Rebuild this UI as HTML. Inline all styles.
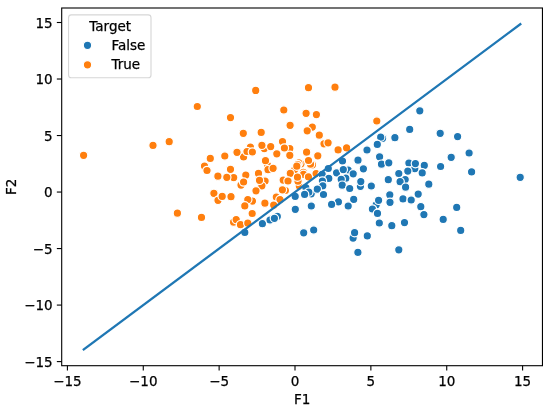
<!DOCTYPE html>
<html><head><meta charset="utf-8"><title>Scatter</title>
<style>html,body{margin:0;padding:0;background:#fff;}svg{display:block;}</style>
</head><body>
<svg width="550" height="411" viewBox="0 0 550 411">
<rect width="550" height="411" fill="#fff"/>
<rect x="61.7" y="8.0" width="480.75000000000006" height="357.7" fill="#fff" stroke="none"/>
<g stroke="#fff" stroke-width="1.2">
<circle cx="83.6" cy="155.3" r="4.2" fill="#ff7f0e"/>
<circle cx="153.0" cy="145.4" r="4.2" fill="#ff7f0e"/>
<circle cx="169.2" cy="141.7" r="4.2" fill="#ff7f0e"/>
<circle cx="255.7" cy="90.4" r="4.2" fill="#ff7f0e"/>
<circle cx="197.3" cy="106.5" r="4.2" fill="#ff7f0e"/>
<circle cx="230.5" cy="117.6" r="4.2" fill="#ff7f0e"/>
<circle cx="243.3" cy="133.3" r="4.2" fill="#ff7f0e"/>
<circle cx="261.2" cy="132.4" r="4.2" fill="#ff7f0e"/>
<circle cx="264.3" cy="148.6" r="4.2" fill="#ff7f0e"/>
<circle cx="261.9" cy="145.3" r="4.2" fill="#ff7f0e"/>
<circle cx="270.7" cy="146.6" r="4.2" fill="#ff7f0e"/>
<circle cx="250.4" cy="147.1" r="4.2" fill="#ff7f0e"/>
<circle cx="243.6" cy="156.9" r="4.2" fill="#ff7f0e"/>
<circle cx="247.0" cy="151.5" r="4.2" fill="#ff7f0e"/>
<circle cx="252.4" cy="152.0" r="4.2" fill="#ff7f0e"/>
<circle cx="237.0" cy="152.3" r="4.2" fill="#ff7f0e"/>
<circle cx="224.8" cy="156.0" r="4.2" fill="#ff7f0e"/>
<circle cx="276.8" cy="153.8" r="4.2" fill="#ff7f0e"/>
<circle cx="210.3" cy="158.4" r="4.2" fill="#ff7f0e"/>
<circle cx="204.5" cy="166.1" r="4.2" fill="#ff7f0e"/>
<circle cx="207.0" cy="170.5" r="4.2" fill="#ff7f0e"/>
<circle cx="217.9" cy="176.2" r="4.2" fill="#ff7f0e"/>
<circle cx="230.5" cy="169.3" r="4.2" fill="#ff7f0e"/>
<circle cx="233.7" cy="177.6" r="4.2" fill="#ff7f0e"/>
<circle cx="226.8" cy="177.3" r="4.2" fill="#ff7f0e"/>
<circle cx="245.8" cy="175.1" r="4.2" fill="#ff7f0e"/>
<circle cx="241.0" cy="185.1" r="4.2" fill="#ff7f0e"/>
<circle cx="243.6" cy="182.0" r="4.2" fill="#ff7f0e"/>
<circle cx="258.5" cy="173.4" r="4.2" fill="#ff7f0e"/>
<circle cx="265.1" cy="181.0" r="4.2" fill="#ff7f0e"/>
<circle cx="261.9" cy="185.8" r="4.2" fill="#ff7f0e"/>
<circle cx="259.5" cy="180.3" r="4.2" fill="#ff7f0e"/>
<circle cx="256.0" cy="190.8" r="4.2" fill="#ff7f0e"/>
<circle cx="267.5" cy="165.0" r="4.2" fill="#ff7f0e"/>
<circle cx="265.5" cy="160.7" r="4.2" fill="#ff7f0e"/>
<circle cx="268.0" cy="169.7" r="4.2" fill="#ff7f0e"/>
<circle cx="273.1" cy="168.3" r="4.2" fill="#ff7f0e"/>
<circle cx="213.9" cy="193.3" r="4.2" fill="#ff7f0e"/>
<circle cx="218.0" cy="200.3" r="4.2" fill="#ff7f0e"/>
<circle cx="222.2" cy="196.4" r="4.2" fill="#ff7f0e"/>
<circle cx="231.0" cy="196.7" r="4.2" fill="#ff7f0e"/>
<circle cx="177.4" cy="213.2" r="4.2" fill="#ff7f0e"/>
<circle cx="201.5" cy="217.4" r="4.2" fill="#ff7f0e"/>
<circle cx="233.6" cy="222.2" r="4.2" fill="#ff7f0e"/>
<circle cx="236.2" cy="219.6" r="4.2" fill="#ff7f0e"/>
<circle cx="240.5" cy="224.7" r="4.2" fill="#ff7f0e"/>
<circle cx="285.4" cy="190.5" r="4.2" fill="#ff7f0e"/>
<circle cx="282.4" cy="189.8" r="4.2" fill="#ff7f0e"/>
<circle cx="299.3" cy="186.0" r="4.2" fill="#ff7f0e"/>
<circle cx="252.5" cy="201.1" r="4.2" fill="#ff7f0e"/>
<circle cx="247.8" cy="199.6" r="4.2" fill="#ff7f0e"/>
<circle cx="244.8" cy="205.9" r="4.2" fill="#ff7f0e"/>
<circle cx="264.9" cy="203.2" r="4.2" fill="#ff7f0e"/>
<circle cx="276.3" cy="197.0" r="4.2" fill="#ff7f0e"/>
<circle cx="280.0" cy="199.6" r="4.2" fill="#ff7f0e"/>
<circle cx="273.7" cy="205.1" r="4.2" fill="#ff7f0e"/>
<circle cx="252.2" cy="213.5" r="4.2" fill="#ff7f0e"/>
<circle cx="247.8" cy="223.2" r="4.2" fill="#ff7f0e"/>
<circle cx="319.3" cy="135.2" r="4.2" fill="#ff7f0e"/>
<circle cx="282.5" cy="141.6" r="4.2" fill="#ff7f0e"/>
<circle cx="289.8" cy="148.6" r="4.2" fill="#ff7f0e"/>
<circle cx="284.4" cy="148.0" r="4.2" fill="#ff7f0e"/>
<circle cx="324.0" cy="143.8" r="4.2" fill="#ff7f0e"/>
<circle cx="328.1" cy="142.8" r="4.2" fill="#ff7f0e"/>
<circle cx="338.1" cy="149.9" r="4.2" fill="#ff7f0e"/>
<circle cx="346.6" cy="147.9" r="4.2" fill="#ff7f0e"/>
<circle cx="289.8" cy="155.3" r="4.2" fill="#ff7f0e"/>
<circle cx="306.6" cy="152.2" r="4.2" fill="#ff7f0e"/>
<circle cx="317.8" cy="155.8" r="4.2" fill="#ff7f0e"/>
<circle cx="303.4" cy="172.3" r="4.2" fill="#ff7f0e"/>
<circle cx="303.5" cy="174.4" r="4.2" fill="#ff7f0e"/>
<circle cx="301.0" cy="163.8" r="4.2" fill="#ff7f0e"/>
<circle cx="298.8" cy="162.9" r="4.2" fill="#ff7f0e"/>
<circle cx="297.6" cy="164.5" r="4.2" fill="#ff7f0e"/>
<circle cx="312.5" cy="164.8" r="4.2" fill="#ff7f0e"/>
<circle cx="310.5" cy="164.2" r="4.2" fill="#ff7f0e"/>
<circle cx="308.5" cy="160.5" r="4.2" fill="#ff7f0e"/>
<circle cx="294.4" cy="170.0" r="4.2" fill="#ff7f0e"/>
<circle cx="296.8" cy="166.2" r="4.2" fill="#ff7f0e"/>
<circle cx="290.3" cy="173.3" r="4.2" fill="#ff7f0e"/>
<circle cx="298.0" cy="181.2" r="4.2" fill="#ff7f0e"/>
<circle cx="297.5" cy="177.2" r="4.2" fill="#ff7f0e"/>
<circle cx="308.5" cy="176.9" r="4.2" fill="#ff7f0e"/>
<circle cx="316.1" cy="173.6" r="4.2" fill="#ff7f0e"/>
<circle cx="283.2" cy="180.1" r="4.2" fill="#ff7f0e"/>
<circle cx="288.0" cy="181.0" r="4.2" fill="#ff7f0e"/>
<circle cx="308.5" cy="87.7" r="4.2" fill="#ff7f0e"/>
<circle cx="335.0" cy="87.2" r="4.2" fill="#ff7f0e"/>
<circle cx="283.8" cy="110.0" r="4.2" fill="#ff7f0e"/>
<circle cx="306.1" cy="113.3" r="4.2" fill="#ff7f0e"/>
<circle cx="316.4" cy="114.6" r="4.2" fill="#ff7f0e"/>
<circle cx="290.1" cy="125.3" r="4.2" fill="#ff7f0e"/>
<circle cx="312.3" cy="127.1" r="4.2" fill="#ff7f0e"/>
<circle cx="307.2" cy="130.8" r="4.2" fill="#ff7f0e"/>
<circle cx="376.8" cy="121.0" r="4.2" fill="#ff7f0e"/>
<circle cx="244.8" cy="232.4" r="4.2" fill="#1f77b4"/>
<circle cx="262.4" cy="223.7" r="4.2" fill="#1f77b4"/>
<circle cx="270.0" cy="220.0" r="4.2" fill="#1f77b4"/>
<circle cx="277.3" cy="216.4" r="4.2" fill="#1f77b4"/>
<circle cx="274.4" cy="218.3" r="4.2" fill="#1f77b4"/>
<circle cx="295.3" cy="209.3" r="4.2" fill="#1f77b4"/>
<circle cx="295.2" cy="196.4" r="4.2" fill="#1f77b4"/>
<circle cx="305.8" cy="187.6" r="4.2" fill="#1f77b4"/>
<circle cx="311.2" cy="193.8" r="4.2" fill="#1f77b4"/>
<circle cx="308.8" cy="192.2" r="4.2" fill="#1f77b4"/>
<circle cx="304.6" cy="194.4" r="4.2" fill="#1f77b4"/>
<circle cx="311.3" cy="206.0" r="4.2" fill="#1f77b4"/>
<circle cx="303.7" cy="232.8" r="4.2" fill="#1f77b4"/>
<circle cx="313.7" cy="230.0" r="4.2" fill="#1f77b4"/>
<circle cx="342.5" cy="161.0" r="4.2" fill="#1f77b4"/>
<circle cx="328.3" cy="168.5" r="4.2" fill="#1f77b4"/>
<circle cx="336.6" cy="172.8" r="4.2" fill="#1f77b4"/>
<circle cx="348.2" cy="170.0" r="4.2" fill="#1f77b4"/>
<circle cx="343.3" cy="169.6" r="4.2" fill="#1f77b4"/>
<circle cx="322.2" cy="174.4" r="4.2" fill="#1f77b4"/>
<circle cx="328.8" cy="178.4" r="4.2" fill="#1f77b4"/>
<circle cx="345.8" cy="178.2" r="4.2" fill="#1f77b4"/>
<circle cx="341.2" cy="179.3" r="4.2" fill="#1f77b4"/>
<circle cx="322.4" cy="181.0" r="4.2" fill="#1f77b4"/>
<circle cx="342.2" cy="185.2" r="4.2" fill="#1f77b4"/>
<circle cx="322.8" cy="185.8" r="4.2" fill="#1f77b4"/>
<circle cx="317.3" cy="189.2" r="4.2" fill="#1f77b4"/>
<circle cx="323.5" cy="194.5" r="4.2" fill="#1f77b4"/>
<circle cx="353.2" cy="173.8" r="4.2" fill="#1f77b4"/>
<circle cx="382.6" cy="138.3" r="4.2" fill="#1f77b4"/>
<circle cx="380.7" cy="137.2" r="4.2" fill="#1f77b4"/>
<circle cx="377.3" cy="144.4" r="4.2" fill="#1f77b4"/>
<circle cx="367.0" cy="150.0" r="4.2" fill="#1f77b4"/>
<circle cx="379.6" cy="156.8" r="4.2" fill="#1f77b4"/>
<circle cx="358.0" cy="160.2" r="4.2" fill="#1f77b4"/>
<circle cx="381.5" cy="164.2" r="4.2" fill="#1f77b4"/>
<circle cx="388.8" cy="162.8" r="4.2" fill="#1f77b4"/>
<circle cx="363.4" cy="168.8" r="4.2" fill="#1f77b4"/>
<circle cx="409.7" cy="129.4" r="4.2" fill="#1f77b4"/>
<circle cx="394.9" cy="137.7" r="4.2" fill="#1f77b4"/>
<circle cx="398.8" cy="173.5" r="4.2" fill="#1f77b4"/>
<circle cx="419.8" cy="110.8" r="4.2" fill="#1f77b4"/>
<circle cx="440.2" cy="133.3" r="4.2" fill="#1f77b4"/>
<circle cx="457.6" cy="136.6" r="4.2" fill="#1f77b4"/>
<circle cx="469.1" cy="153.0" r="4.2" fill="#1f77b4"/>
<circle cx="451.2" cy="157.3" r="4.2" fill="#1f77b4"/>
<circle cx="408.9" cy="163.0" r="4.2" fill="#1f77b4"/>
<circle cx="414.8" cy="168.7" r="4.2" fill="#1f77b4"/>
<circle cx="415.4" cy="163.6" r="4.2" fill="#1f77b4"/>
<circle cx="424.3" cy="165.4" r="4.2" fill="#1f77b4"/>
<circle cx="440.6" cy="166.5" r="4.2" fill="#1f77b4"/>
<circle cx="471.6" cy="171.9" r="4.2" fill="#1f77b4"/>
<circle cx="520.2" cy="177.3" r="4.2" fill="#1f77b4"/>
<circle cx="407.8" cy="171.1" r="4.2" fill="#1f77b4"/>
<circle cx="422.2" cy="172.9" r="4.2" fill="#1f77b4"/>
<circle cx="405.2" cy="179.5" r="4.2" fill="#1f77b4"/>
<circle cx="400.1" cy="181.7" r="4.2" fill="#1f77b4"/>
<circle cx="388.3" cy="179.7" r="4.2" fill="#1f77b4"/>
<circle cx="428.8" cy="184.2" r="4.2" fill="#1f77b4"/>
<circle cx="405.6" cy="187.2" r="4.2" fill="#1f77b4"/>
<circle cx="418.2" cy="194.1" r="4.2" fill="#1f77b4"/>
<circle cx="389.8" cy="194.8" r="4.2" fill="#1f77b4"/>
<circle cx="403.0" cy="198.9" r="4.2" fill="#1f77b4"/>
<circle cx="411.2" cy="200.0" r="4.2" fill="#1f77b4"/>
<circle cx="360.4" cy="186.3" r="4.2" fill="#1f77b4"/>
<circle cx="360.8" cy="181.6" r="4.2" fill="#1f77b4"/>
<circle cx="371.3" cy="186.0" r="4.2" fill="#1f77b4"/>
<circle cx="349.7" cy="188.5" r="4.2" fill="#1f77b4"/>
<circle cx="353.7" cy="199.4" r="4.2" fill="#1f77b4"/>
<circle cx="338.4" cy="201.9" r="4.2" fill="#1f77b4"/>
<circle cx="331.6" cy="204.4" r="4.2" fill="#1f77b4"/>
<circle cx="348.2" cy="206.0" r="4.2" fill="#1f77b4"/>
<circle cx="376.2" cy="204.8" r="4.2" fill="#1f77b4"/>
<circle cx="378.6" cy="200.3" r="4.2" fill="#1f77b4"/>
<circle cx="372.4" cy="209.0" r="4.2" fill="#1f77b4"/>
<circle cx="377.5" cy="213.4" r="4.2" fill="#1f77b4"/>
<circle cx="390.0" cy="202.3" r="4.2" fill="#1f77b4"/>
<circle cx="379.3" cy="223.0" r="4.2" fill="#1f77b4"/>
<circle cx="391.8" cy="225.7" r="4.2" fill="#1f77b4"/>
<circle cx="404.5" cy="222.6" r="4.2" fill="#1f77b4"/>
<circle cx="353.1" cy="238.1" r="4.2" fill="#1f77b4"/>
<circle cx="354.6" cy="232.7" r="4.2" fill="#1f77b4"/>
<circle cx="367.3" cy="235.9" r="4.2" fill="#1f77b4"/>
<circle cx="357.9" cy="252.4" r="4.2" fill="#1f77b4"/>
<circle cx="398.8" cy="249.8" r="4.2" fill="#1f77b4"/>
<circle cx="420.8" cy="206.7" r="4.2" fill="#1f77b4"/>
<circle cx="423.9" cy="214.6" r="4.2" fill="#1f77b4"/>
<circle cx="456.7" cy="207.4" r="4.2" fill="#1f77b4"/>
<circle cx="443.2" cy="219.4" r="4.2" fill="#1f77b4"/>
<circle cx="460.7" cy="230.4" r="4.2" fill="#1f77b4"/>
</g>
<line x1="83.79" y1="349.39" x2="520.32" y2="24.20" stroke="#1f77b4" stroke-width="2.3" stroke-linecap="square"/>
<rect x="61.7" y="8.0" width="480.75000000000006" height="357.7" fill="none" stroke="#000" stroke-width="1.1"/>
<g stroke="#000" stroke-width="1.1">
<line x1="67.41" y1="365.7" x2="67.41" y2="370.56"/>
<line x1="61.7" y1="361.60" x2="56.84" y2="361.60"/>
<line x1="143.27" y1="365.7" x2="143.27" y2="370.56"/>
<line x1="61.7" y1="305.08" x2="56.84" y2="305.08"/>
<line x1="219.13" y1="365.7" x2="219.13" y2="370.56"/>
<line x1="61.7" y1="248.56" x2="56.84" y2="248.56"/>
<line x1="295.00" y1="365.7" x2="295.00" y2="370.56"/>
<line x1="61.7" y1="192.05" x2="56.84" y2="192.05"/>
<line x1="370.87" y1="365.7" x2="370.87" y2="370.56"/>
<line x1="61.7" y1="135.54" x2="56.84" y2="135.54"/>
<line x1="446.73" y1="365.7" x2="446.73" y2="370.56"/>
<line x1="61.7" y1="79.02" x2="56.84" y2="79.02"/>
<line x1="522.60" y1="365.7" x2="522.60" y2="370.56"/>
<line x1="61.7" y1="22.50" x2="56.84" y2="22.50"/>
</g>
<g font-family="DejaVu Sans, Liberation Sans, sans-serif" font-size="13.5px" fill="#000" stroke="#000" stroke-width="0.25">
<text x="67.41" y="385.8" text-anchor="middle">−15</text>
<text x="52.64" y="367.00" text-anchor="end">−15</text>
<text x="143.27" y="385.8" text-anchor="middle">−10</text>
<text x="52.64" y="310.48" text-anchor="end">−10</text>
<text x="219.13" y="385.8" text-anchor="middle">−5</text>
<text x="52.64" y="253.97" text-anchor="end">−5</text>
<text x="295.00" y="385.8" text-anchor="middle">0</text>
<text x="52.64" y="197.45" text-anchor="end">0</text>
<text x="370.87" y="385.8" text-anchor="middle">5</text>
<text x="52.64" y="140.94" text-anchor="end">5</text>
<text x="446.73" y="385.8" text-anchor="middle">10</text>
<text x="52.64" y="84.42" text-anchor="end">10</text>
<text x="522.60" y="385.8" text-anchor="middle">15</text>
<text x="52.64" y="27.90" text-anchor="end">15</text>
<text x="302.08" y="403.8" text-anchor="middle">F1</text>
<text transform="translate(15.6,186.85) rotate(-90)" text-anchor="middle">F2</text>
<rect x="68.55" y="14.85" width="82.45" height="62.95" rx="2.8" fill="#fff" fill-opacity="0.8" stroke="#ccc" stroke-opacity="0.8" stroke-width="1.1"/>
<text x="89.3" y="30.6">Target</text>
<text x="111.5" y="49.8">False</text>
<text x="111.5" y="69.3">True</text>
</g>
<g stroke="#fff" stroke-width="1.2"><circle cx="87.5" cy="45.3" r="4.2" fill="#1f77b4"/><circle cx="87.5" cy="64.8" r="4.2" fill="#ff7f0e"/></g>
</svg>
</body></html>
